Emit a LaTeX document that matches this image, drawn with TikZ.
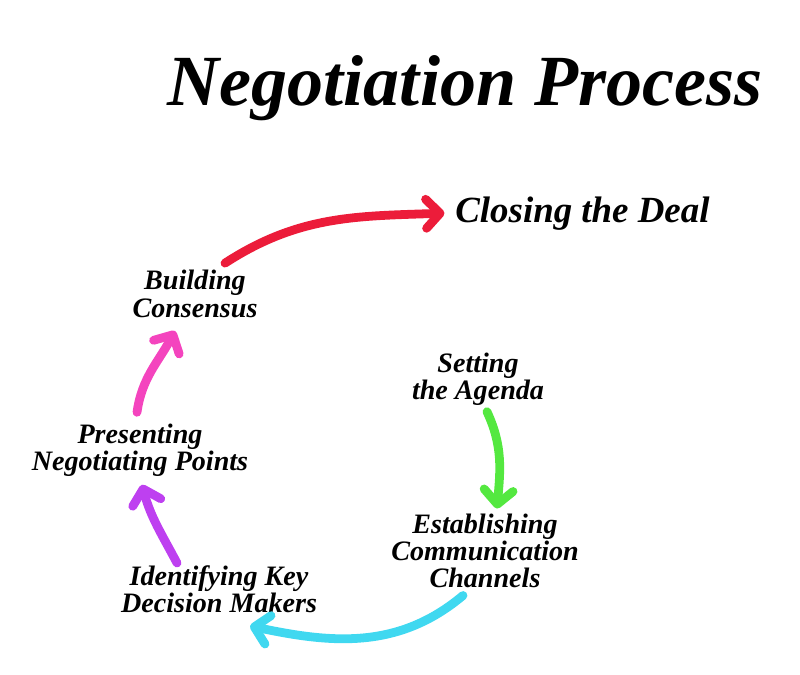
\documentclass[tikz,border=0pt]{standalone}
\usepackage{fontspec}
\setmainfont{Liberation Serif}
\usetikzlibrary{arrows.meta}

\newcommand{\arrowLineWidth}{5pt}
\newcommand{\labelFontSize}{\fontsize{16}{15.5}\selectfont}

\definecolor{arrowRed}{RGB}{236,28,58}
\definecolor{arrowGreen}{RGB}{84,232,64}
\definecolor{arrowCyan}{RGB}{64,216,240}
\definecolor{arrowPurple}{RGB}{190,64,240}
\definecolor{arrowPink}{RGB}{244,68,190}

\begin{document}
\begin{tikzpicture}[x=0.02cm,y=-0.02cm]
\tikzstyle{stepLabel}=[align=center,inner sep=0pt,font=\labelFontSize\bfseries\itshape]
\tikzstyle{flowArrow}=[line width=\arrowLineWidth,line cap=round,-{Straight Barb[length=2.8mm,width=5.8mm,round]}]
\useasboundingbox (0,0) rectangle (800,674);
\node[inner sep=0pt,anchor=base,font=\fontsize{41}{41}\selectfont\bfseries\itshape] (title) at (465,105) {Negotiation Process};
\node[inner sep=0pt,anchor=base west,font=\fontsize{21}{21}\selectfont\bfseries\itshape] (close) at (455,222) {Closing the Deal};
\node[stepLabel] (build) at (195,294) {Building\\Consensus};
\node[stepLabel] (agenda) at (478,379) {Setting\\the Agenda};
\node[stepLabel] (present) at (140,450) {Presenting\\Negotiating Points};
\node[stepLabel] (channels) at (485,551) {Establishing\\Communication\\Channels};
\node[stepLabel] (deciders) at (219,589) {Identifying Key\\Decision Makers};
\draw[flowArrow,arrowRed] ([shift={(30,-7)}]build.north) to[out=33,in=182] ([xshift=-6]close.west);
\draw[flowArrow,arrowGreen] ([shift={(9,6)}]agenda.south) to[out=-65,in=85] ([shift={(12,-5)}]channels.north);
\draw[flowArrow,arrowCyan] ([shift={(-22,7)}]channels.south) to[out=-140,in=-12] ([shift={(31,13)}]deciders.south);
\draw[flowArrow,arrowPurple] ([shift={(-42,-2)}]deciders.north) to[out=118,in=-75] ([shift={(2,8)}]present.south);
\draw[flowArrow,arrowPink] ([shift={(-3,-11)}]present.north) to[out=82,in=-118] ([shift={(-20,13)}]build.south);
\end{tikzpicture}
\end{document}
